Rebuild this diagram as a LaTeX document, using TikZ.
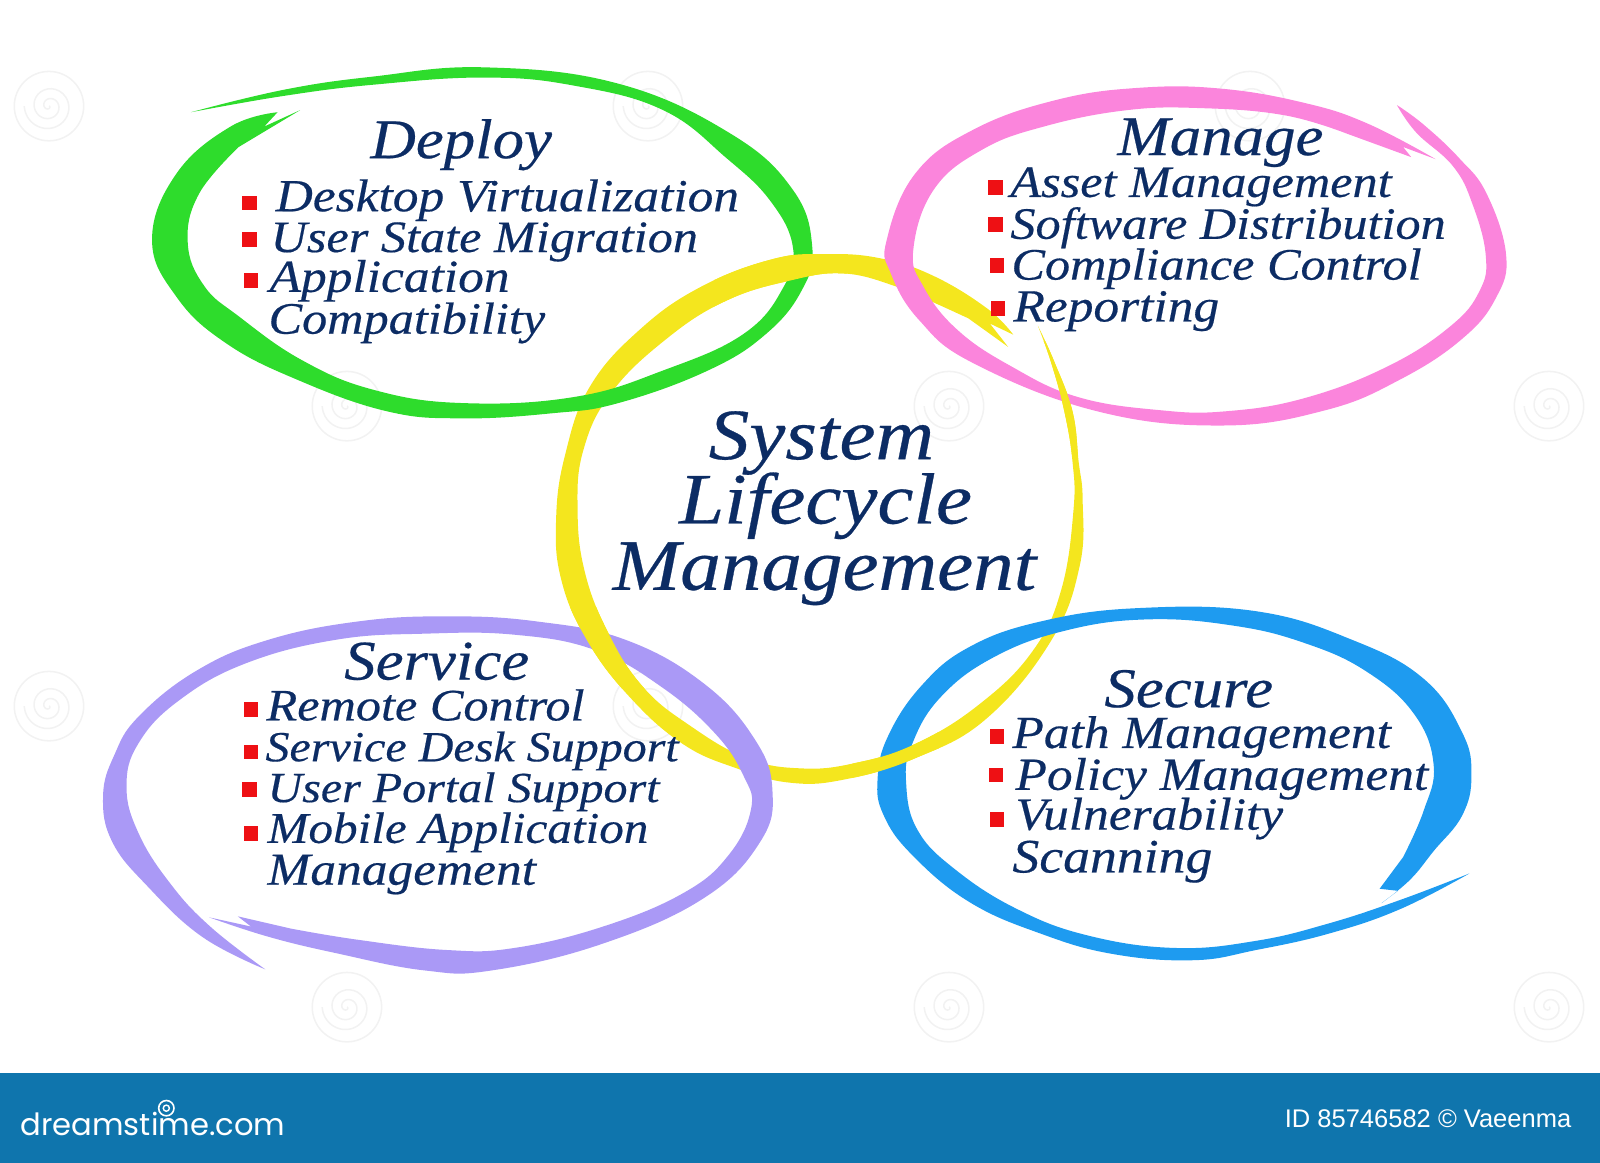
\documentclass[tikz,border=0pt]{standalone}
\usepackage{fontspec}
\setmainfont[FakeStretch=1.12,FakeBold=0.4]{Liberation Serif}
\newfontfamily\logofont{Poppins}
\newfontfamily\idfont{Liberation Sans}
\definecolor{inkblue}{RGB}{12,44,100}
\definecolor{ringgreen}{RGB}{46,220,44}
\definecolor{ringpink}{RGB}{251,133,220}
\definecolor{ringyellow}{RGB}{244,230,30}
\definecolor{ringpurple}{RGB}{170,153,246}
\definecolor{ringblue}{RGB}{30,155,240}
\definecolor{dotred}{RGB}{238,16,20}
\definecolor{bandblue}{RGB}{15,117,173}
\newcommand{\yellowstroke}{plot[smooth,tension=.7] coordinates {(1017,319) (1033,354) (1051,403) (1057,452) (1061,490) (1058,555) (1030,628) (967,704) (897,743) (827,764) (774,767) (722,753) (669,729) (617,683) (575,627) (550,568) (545,508) (554,445) (578,379) (627,323) (687,281) (757,254) (809,249) (862,253) (914,270) (967,302) (993,328)} -- (970,317) -- (988,340) -- plot[smooth,tension=.7] coordinates {(949,312) (914,296) (879,281) (827,268) (774,275) (711,295) (652,333) (599,385) (572,440) (566,498) (573,560) (596,620) (630,673) (676,711) (732,743) (785,753) (837,748) (897,729) (960,690) (1012,638) (1040,578) (1052,500) (1051,452) (1043,403) (1030,355) (1017,319)} -- cycle}

\begin{document}
\begin{tikzpicture}[x=1pt,y=-1pt]

    \tikzstyle{itemtext}[45]=[anchor=base west,inner sep=0pt,text=inkblue,font=\fontsize{#1}{#1}\selectfont\itshape]
    \tikzstyle{headtext}=[anchor=base,inner sep=0pt,text=inkblue,font=\fontsize{55}{55}\selectfont\itshape]
    \tikzstyle{titletext}=[anchor=base,inner sep=0pt,text=inkblue,font=\fontsize{71}{71}\selectfont\itshape]
    \tikzstyle{bullet}=[rectangle,fill=dotred,inner sep=0pt,minimum width=14.5pt,minimum height=14.5pt]
    \tikzstyle{markline}=[draw=black!5,line width=1.5pt]

    \useasboundingbox (0,0) rectangle (1568,1139.7);

    \foreach \mx/\my in {48/104,635/104,1225/104,340/398,930/398,1518/398,48/692,635/692,340/987,930/987,1518/987} {
        \draw[markline] (\mx,\my) circle (34);
        \draw[markline] plot[domain=0:900,samples=70,smooth] ({\mx+\x*0.027*cos(\x)},{\my+\x*0.027*sin(\x)});
    }

    \fill[ringyellow] \yellowstroke;

    \fill[ringgreen] plot[smooth,tension=.7] coordinates {(187,110) (278,88) (366,75) (475,66) (606,82) (716,131) (777,186) (796,242) (786,284) (751,327) (694,363) (606,395) (541,405) (453,410) (379,403) (291,372) (221,336) (173,291) (149,235) (173,170) (226,124) (272,110)} -- (259,124) -- (294,108) -- plot[smooth,tension=.7] coordinates {(234,144) (195,190) (184,238) (200,280) (234,310) (296,353) (366,382) (453,395) (563,389) (650,363) (729,327) (768,281) (777,242) (755,197) (712,155) (650,108) (563,84) (475,76) (366,83) (278,94) (187,110)} -- cycle;

    \fill[ringpink] plot[smooth,tension=.7] coordinates {(1369,103) (1395,122) (1430,155) (1457,190) (1476,250) (1466,292) (1433,332) (1372,372) (1299,402) (1198,417) (1075,403) (954,356) (901,314) (873,268) (869,235) (897,170) (954,127) (1035,98) (1117,86) (1198,87) (1279,101) (1340,121) (1407,156)} -- (1375,144) -- (1383,154) -- plot[smooth,tension=.7] coordinates {(1320,131) (1259,113) (1178,106) (1104,108) (1023,124) (962,147) (915,186) (895,245) (905,281) (938,323) (991,359) (1056,389) (1137,402) (1202,403) (1279,390) (1360,359) (1421,320) (1450,285) (1456,250) (1443,200) (1424,163) (1388,130) (1369,103)} -- cycle;

    \fill[ringpurple] plot[smooth,tension=.7] coordinates {(260,950) (198,918) (145,869) (110,825) (101,780) (112,740) (136,702) (193,657) (263,627) (351,609) (438,604) (526,609) (613,627) (690,670) (740,725) (757,775) (745,825) (690,880) (590,925) (482,951) (416,951) (329,934) (263,918) (205,899)} -- (246,908) -- (233,898) -- plot[smooth,tension=.7] coordinates {(285,910) (351,921) (438,931) (504,929) (591,908) (670,875) (714,838) (736,793) (729,761) (701,719) (648,673) (583,637) (504,622) (416,621) (329,627) (241,650) (176,686) (136,728) (124,771) (136,817) (167,866) (206,908) (260,950)} -- cycle;

    \fill[ringblue] plot[smooth,tension=.7] coordinates {(1440,856) (1372,891) (1302,915) (1231,931) (1170,941) (1091,935) (1020,915) (950,884) (894,838) (866,799) (860,764) (870,722) (903,672) (950,634) (1020,609) (1114,596) (1231,599) (1325,627) (1395,665) (1433,718) (1442,760) (1433,799) (1405,834) (1382,862) (1354,885)} -- (1370,873) -- (1352,871) -- plot[smooth,tension=.7] coordinates {(1375,840) (1395,795) (1405,750) (1386,700) (1339,658) (1278,630) (1208,613) (1124,607) (1044,618) (974,644) (922,683) (894,729) (888,767) (899,813) (936,852) (997,891) (1067,917) (1152,929) (1231,922) (1302,905) (1372,882) (1440,856)} -- cycle;

    \foreach \cx/\cy/\cw/\ch in {700/230/130/70,1005/335/70/110,835/695/85/80,545/595/95/80} {
        \begin{scope}
            \clip (\cx,\cy) rectangle ++(\cw,\ch);
            \fill[ringyellow] \yellowstroke;
        \end{scope}
    }

    \node[headtext] (deploy) at (452,155) {Deploy};
    \node[bullet] (d1) at (244.5,199) {};
    \node[itemtext] (dt1) at (270,207) {Desktop Virtualization};
    \node[bullet] (d2) at (244.5,234.5) {};
    \node[itemtext=44] (dt2) at (265,247) {User State Migration};
    \node[bullet] (d3) at (246,274.5) {};
    \node[itemtext] (dt3) at (264,286) {Application};
    \node[itemtext=44] (dt4) at (263,327) {Compatibility};

    \node[headtext] (manage) at (1196,152) {Manage};
    \node[bullet] (m1) at (975.5,184) {};
    \node[itemtext=44] (mt1) at (990,193) {Asset Management};
    \node[bullet] (m2) at (975.5,220) {};
    \node[itemtext=44] (mt2) at (990,234) {Software Distribution};
    \node[bullet] (m3) at (977,260) {};
    \node[itemtext=44] (mt3) at (991,274) {Compliance Control};
    \node[bullet] (m4) at (978,302) {};
    \node[itemtext] (mt4) at (993,315) {Reporting};

    \node[titletext] (sys) at (805,450) {System};
    \node[titletext] (life) at (809,513) {Lifecycle};
    \node[titletext] (mgmt) at (808,578) {Management};

    \node[headtext] (service) at (428,666) {Service};
    \node[bullet] (s1) at (246,695) {};
    \node[itemtext=44] (st1) at (261,706) {Remote Control};
    \node[bullet] (s2) at (246,737) {};
    \node[itemtext=42] (st2) at (260,746) {Service Desk Support};
    \node[bullet] (s3) at (244.5,774) {};
    \node[itemtext=42] (st3) at (262,786) {User Portal Support};
    \node[bullet] (s4) at (246,817) {};
    \node[itemtext=43] (st4) at (262,826) {Mobile Application};
    \node[itemtext] (st5) at (262,867) {Management};

    \node[headtext] (secure) at (1165,693) {Secure};
    \node[bullet] (c1) at (977,722) {};
    \node[itemtext] (ct1) at (992,733) {Path Management};
    \node[bullet] (c2) at (976,759.5) {};
    \node[itemtext=45] (ct2) at (995,774) {Policy Management};
    \node[bullet] (c3) at (977,803) {};
    \node[itemtext] (ct3) at (995,813) {Vulnerability};
    \node[itemtext=47] (ct4) at (992,855) {Scanning};

    \fill[bandblue] (0,1052) rectangle (1568,1139.7);
    \node[anchor=base west,inner sep=0pt,text=white,font=\fontsize{30}{30}\selectfont\logofont] (logo) at (20,1113) {dreamstime.com};
    \draw[white,line width=1.6pt] (163,1086) circle (7.5);
    \draw[white,line width=1.4pt] (163,1086) circle (3);
    \node[anchor=base east,inner sep=0pt,text=white,font=\fontsize{25}{25}\selectfont\idfont] (stockid) at (1540,1105) {ID 85746582 © Vaeenma};

\end{tikzpicture}
\end{document}
